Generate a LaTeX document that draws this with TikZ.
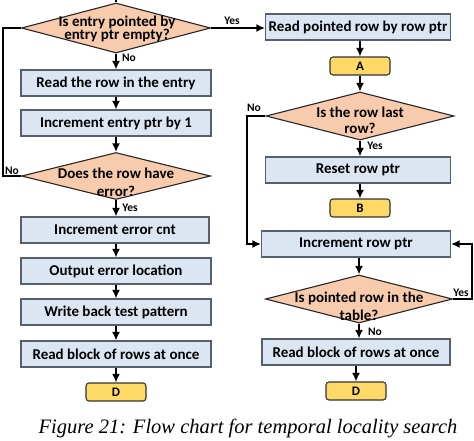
\documentclass[tikz,border=0pt]{standalone}
\usepackage{fontspec}
\setmainfont{Carlito}
\newfontfamily\capfont{Liberation Serif}
\usetikzlibrary{shapes.geometric,arrows.meta}
\definecolor{boxfill}{HTML}{DCE6F2}
\definecolor{boxdraw}{HTML}{56606B}
\definecolor{dfill}{HTML}{F8CBAD}
\definecolor{tfill}{HTML}{FFD966}
\begin{document}
\begin{tikzpicture}[x=1pt,y=-1pt,
  proc/.style={draw=boxdraw, fill=boxfill, line width=1.1pt, inner sep=0pt,
    minimum height=26pt, font=\bfseries\fontsize{15}{17}\selectfont},
  term/.style={draw=black!80, fill=tfill, line width=1.1pt, rounded corners=3pt,
    inner sep=0pt, minimum width=60pt, minimum height=18pt,
    font=\bfseries\fontsize{13}{15}\selectfont},
  dec/.style={diamond, draw=black!85, fill=dfill, line width=1.1pt, inner sep=0pt},
  dtext/.style={align=center, inner sep=0pt, font=\bfseries\fontsize{15}{#1}\selectfont},
  lab/.style={inner sep=0pt, font=\bfseries\fontsize{11.5}{13}\selectfont},
  conn/.style={line width=1.8pt, -{Latex[length=8.5pt,width=8pt]}},
  plain/.style={line width=1.8pt}]
\useasboundingbox (0,0) rectangle (474,440);

% left column
\coordinate (top0) at (116,0);
\node[dec, minimum width=189pt, minimum height=50pt] (d1) at (116,28) {};
\node[dtext=12.5] (d1t) at (117,29) {Is entry pointed by\\entry ptr empty?};
\node[proc, minimum width=190pt] (b1) at (116,83) {Read the row in the entry};
\node[proc, minimum width=190pt] (b2) at (116,123) {Increment entry ptr by 1};
\node[dec, minimum width=189pt, minimum height=47pt] (d2) at (116,176) {};
\node[dtext=18] (d2t) at (116,182) {Does the row have\\error?};
\node[proc, minimum width=188pt] (b3) at (115,230) {Increment error cnt};
\node[proc, minimum width=190pt] (b4) at (116,271) {Output error location};
\node[proc, minimum width=190pt] (b5) at (116,312) {Write back test pattern};
\node[proc, minimum width=190pt] (b6) at (116,354) {Read block of rows at once};
\node[term] (t1) at (116,392) {D};

% right column
\node[proc, minimum width=185pt] (r1) at (358,27) {Read pointed row by row ptr};
\node[term] (ta) at (360,66) {A};
\node[dec, minimum width=188pt, minimum height=48pt] (d3) at (360,116) {};
\node[dtext=16] (d3t) at (360,120) {Is the row last\\row?};
\node[proc, minimum width=185pt] (r2) at (358,170) {Reset row ptr};
\node[term] (tb) at (360,208) {B};
\node[proc, minimum width=189pt] (r3) at (356,244) {Increment row ptr};
\node[dec, minimum width=187pt, minimum height=48pt] (d4) at (359,299) {};
\node[dtext=18] (d4t) at (359,306) {Is pointed row in the\\table?};
\node[proc, minimum width=188pt] (r4) at (356,352) {Read block of rows at once};
\node[term] (t2) at (356,391) {D};

\coordinate (lx) at (3,0);
\coordinate (nx) at (247,0);
\coordinate (yx) at (472,0);

% left connectors
\draw[plain] (top0) -- (d1.north);
\draw[conn] (d1.south) -- (b1.north);
\draw[conn] (b1.south) -- (b2.north);
\draw[conn] (b2.south) -- (d2.north);
\draw[conn] (d2.south) -- (d2.south |- b3.north);
\draw[conn] (b3.south -| b4.north) -- (b4.north);
\draw[conn] (b4.south) -- (b5.north);
\draw[conn] (b5.south) -- (b6.north);
\draw[conn] (b6.south) -- (t1.north);
\draw[plain] (d2.west) -- (d2.west -| lx) -- (d1.west -| lx) -- (d1.west);
\draw[conn] (d1.east) -- (d1.east -| r1.west);

% right connectors
\draw[conn] (r1.south -| ta.north) -- (ta.north);
\draw[conn] (ta.south) -- (d3.north);
\draw[conn] (d3.south) -- (d3.south |- r2.north);
\draw[conn] (r2.south -| tb.north) -- (tb.north);
\draw[conn] (d3.west) -- (d3.west -| nx) -- (r3.west -| nx) -- (r3.west);
\draw[conn] (r3.south -| d4.north) -- (d4.north);
\draw[conn] (d4.south) -- (d4.south |- r4.north);
\draw[conn] (r4.south -| t2.north) -- (t2.north);
\draw[conn] (d4.east) -- (d4.east -| yx) -- (r3.east -| yx) -- (r3.east);

% labels
\node[lab] (l1) at (232,21) {Yes};
\node[lab] (l2) at (129,58) {No};
\node[lab] (l3) at (12,171) {No};
\node[lab] (l4) at (130,208) {Yes};
\node[lab] (l5) at (254,108) {No};
\node[lab] (l6) at (375,146) {Yes};
\node[lab] (l7) at (461,293) {Yes};
\node[lab] (l8) at (375,332) {No};

\node[inner sep=0pt, font=\capfont\itshape\fontsize{20.5}{23}\selectfont] (cap) at (248,428)
  {Figure 21: Flow chart for temporal locality search};
\end{tikzpicture}
\end{document}
